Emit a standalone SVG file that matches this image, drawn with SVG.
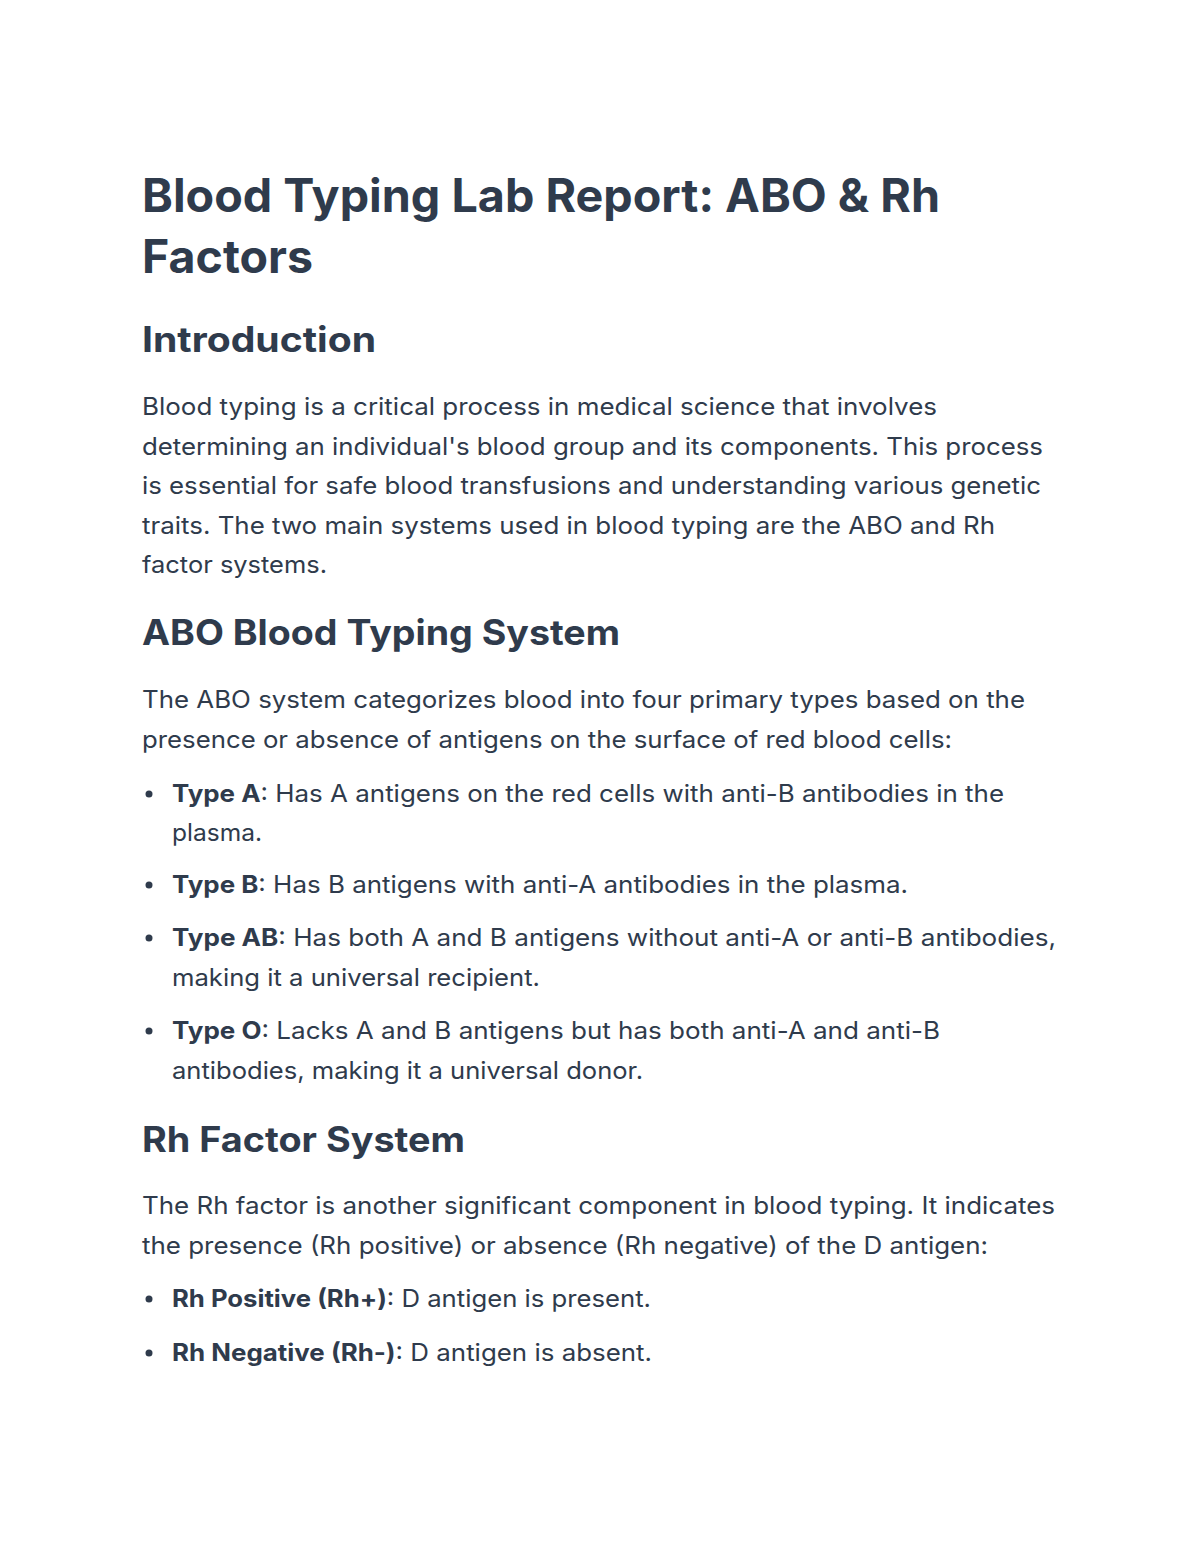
<svg xmlns="http://www.w3.org/2000/svg" width="1200" height="1553" viewBox="0 0 1200 1553">
<style>
text{font-family:Inter,"Noto Sans","Liberation Sans",sans-serif;fill:#2f3b4c}
.h1{font-size:46px;font-weight:700}
.h2{font-size:35px;font-weight:700}
.p{font-size:24px}
.b{font-weight:700}
circle{fill:#2f3b4c}
</style>
<rect width="1200" height="1553" fill="#fff"/>
<text class="h1" x="142" y="212" textLength="798" lengthAdjust="spacingAndGlyphs">Blood Typing Lab Report: ABO &amp; Rh</text>
<text class="h1" x="142" y="273" textLength="171" lengthAdjust="spacingAndGlyphs">Factors</text>
<text class="h2" x="142" y="352" textLength="234" lengthAdjust="spacingAndGlyphs">Introduction</text>
<text class="p" x="142" y="415" textLength="795" lengthAdjust="spacingAndGlyphs">Blood typing is a critical process in medical science that involves</text>
<text class="p" x="142" y="455" textLength="901" lengthAdjust="spacingAndGlyphs">determining an individual's blood group and its components. This process</text>
<text class="p" x="142" y="494" textLength="899" lengthAdjust="spacingAndGlyphs">is essential for safe blood transfusions and understanding various genetic</text>
<text class="p" x="142" y="534" textLength="853" lengthAdjust="spacingAndGlyphs">traits. The two main systems used in blood typing are the ABO and Rh</text>
<text class="p" x="142" y="573" textLength="185" lengthAdjust="spacingAndGlyphs">factor systems.</text>
<text class="h2" x="142" y="645" textLength="478" lengthAdjust="spacingAndGlyphs">ABO Blood Typing System</text>
<text class="p" x="142" y="708" textLength="883" lengthAdjust="spacingAndGlyphs">The ABO system categorizes blood into four primary types based on the</text>
<text class="p" x="142" y="748" textLength="810" lengthAdjust="spacingAndGlyphs">presence or absence of antigens on the surface of red blood cells:</text>
<circle cx="149" cy="794" r="3.5"/>
<text class="p" x="172" y="802" textLength="832" lengthAdjust="spacingAndGlyphs"><tspan class="b">Type A</tspan>: Has A antigens on the red cells with anti-B antibodies in the</text>
<text class="p" x="172" y="841" textLength="90" lengthAdjust="spacingAndGlyphs">plasma.</text>
<circle cx="149" cy="885" r="3.5"/>
<text class="p" x="172" y="893" textLength="736" lengthAdjust="spacingAndGlyphs"><tspan class="b">Type B</tspan>: Has B antigens with anti-A antibodies in the plasma.</text>
<circle cx="149" cy="938" r="3.5"/>
<text class="p" x="172" y="946" textLength="884" lengthAdjust="spacingAndGlyphs"><tspan class="b">Type AB</tspan>: Has both A and B antigens without anti-A or anti-B antibodies,</text>
<text class="p" x="172" y="986" textLength="368" lengthAdjust="spacingAndGlyphs">making it a universal recipient.</text>
<circle cx="149" cy="1031" r="3.5"/>
<text class="p" x="172" y="1039" textLength="768" lengthAdjust="spacingAndGlyphs"><tspan class="b">Type O</tspan>: Lacks A and B antigens but has both anti-A and anti-B</text>
<text class="p" x="172" y="1079" textLength="471" lengthAdjust="spacingAndGlyphs">antibodies, making it a universal donor.</text>
<text class="h2" x="142" y="1152" textLength="323" lengthAdjust="spacingAndGlyphs">Rh Factor System</text>
<text class="p" x="142" y="1214" textLength="913" lengthAdjust="spacingAndGlyphs">The Rh factor is another significant component in blood typing. It indicates</text>
<text class="p" x="142" y="1254" textLength="846" lengthAdjust="spacingAndGlyphs">the presence (Rh positive) or absence (Rh negative) of the D antigen:</text>
<circle cx="149" cy="1299" r="3.5"/>
<text class="p" x="172" y="1307" textLength="479" lengthAdjust="spacingAndGlyphs"><tspan class="b">Rh Positive (Rh+)</tspan>: D antigen is present.</text>
<circle cx="149" cy="1353" r="3.5"/>
<text class="p" x="172" y="1361" textLength="480" lengthAdjust="spacingAndGlyphs"><tspan class="b">Rh Negative (Rh-)</tspan>: D antigen is absent.</text>
</svg>
